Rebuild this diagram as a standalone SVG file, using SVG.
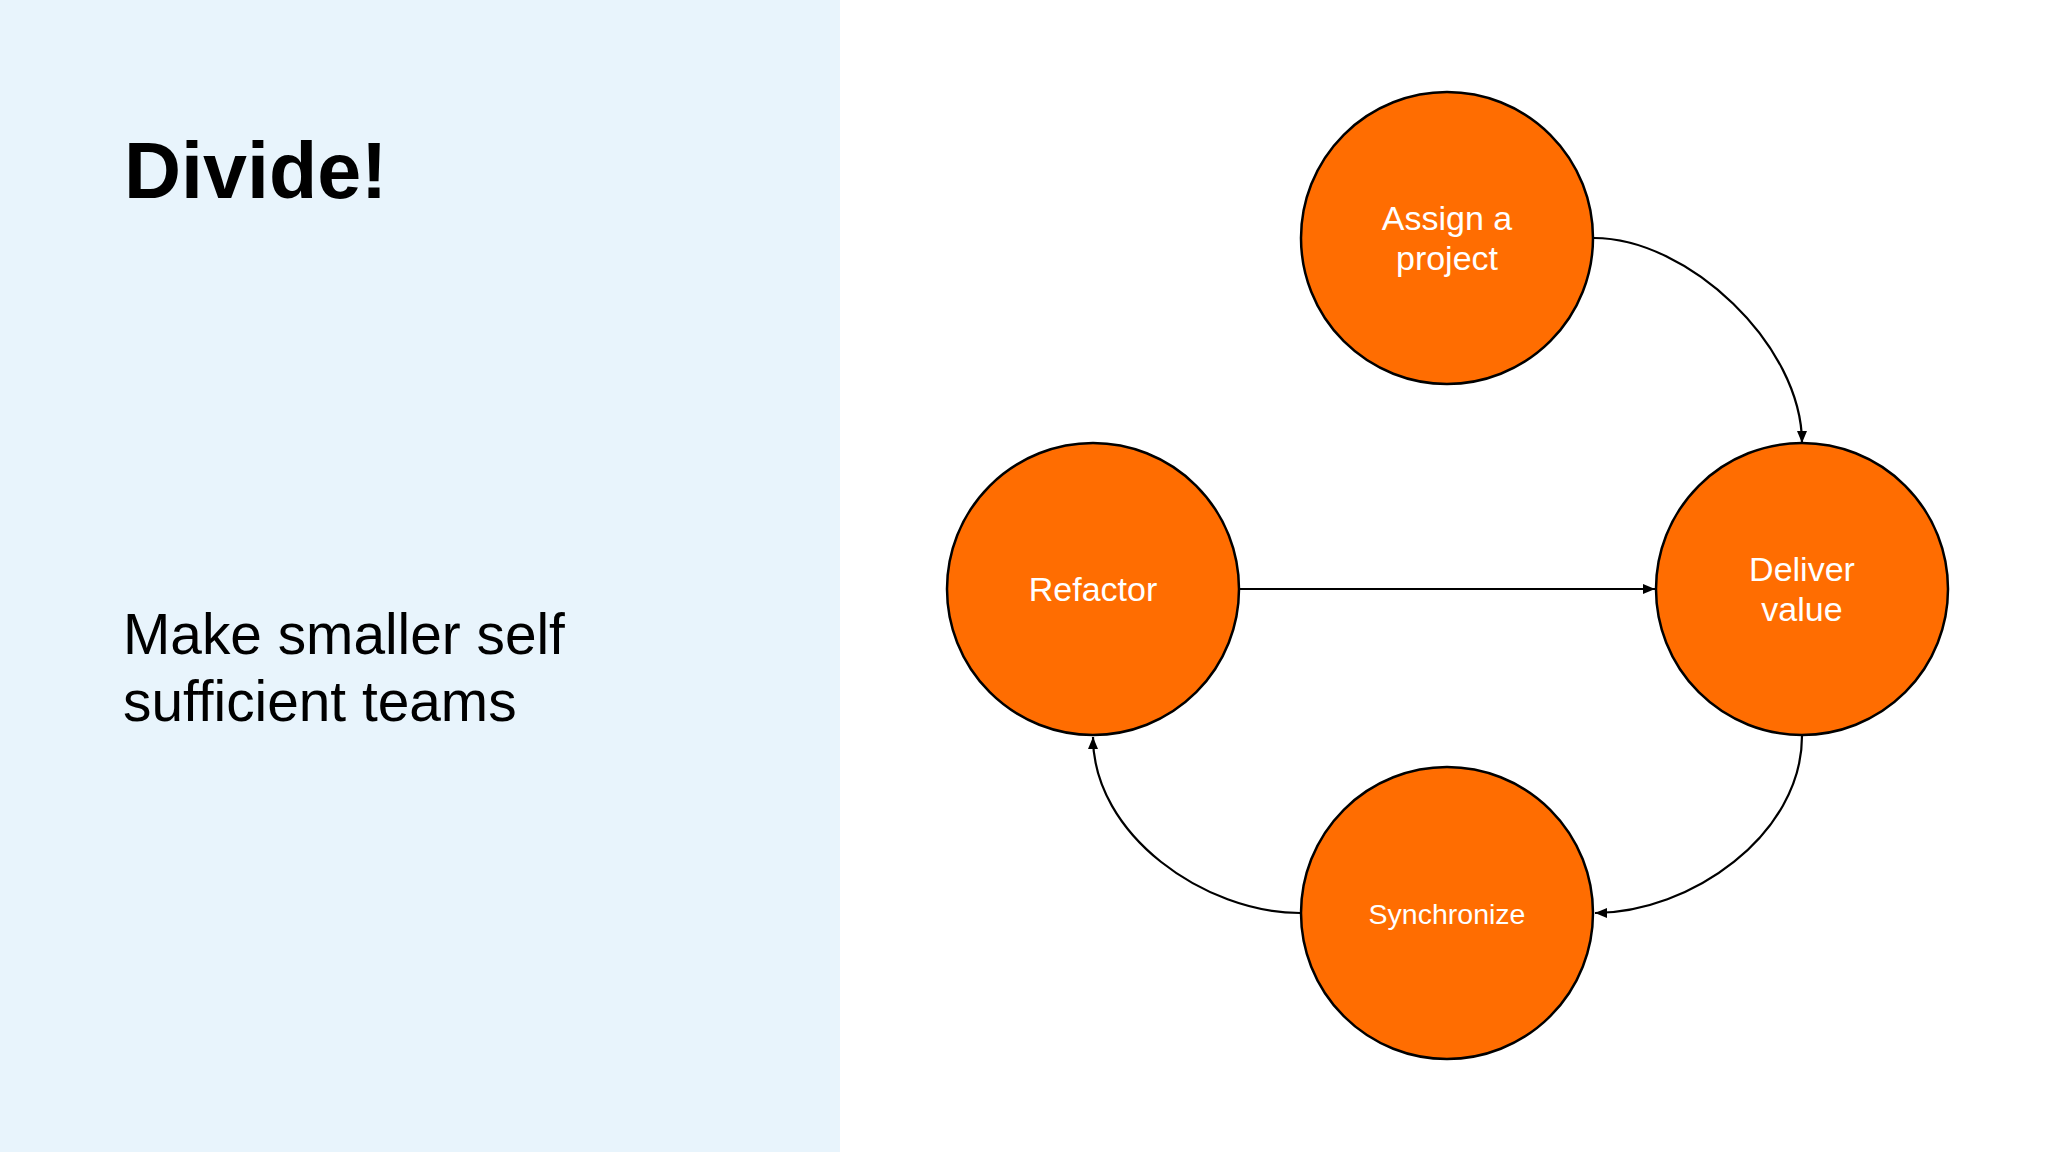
<svg xmlns="http://www.w3.org/2000/svg" width="2048" height="1152" viewBox="0 0 2048 1152">
  <style>
    .node circle { fill: #FF6D01; stroke: #000000; stroke-width: 2.5; }
    .node text { fill: #FFFFFF; font-family: "Liberation Sans", Arial, sans-serif; font-size: 34px; text-anchor: middle; }
    .edge { fill: none; stroke: #000000; stroke-width: 2.2; marker-end: url(#arrow); }
    .title { font-family: "Liberation Sans", Arial, sans-serif; font-weight: bold; font-size: 79px; fill: #000000; }
    .body { font-family: "Liberation Sans", Arial, sans-serif; font-size: 56.8px; fill: #000000; }
  </style>
  <defs>
    <marker id="arrow" viewBox="0 0 12 10" refX="12" refY="5" markerWidth="12" markerHeight="10" markerUnits="userSpaceOnUse" orient="auto">
      <path d="M0,0 L12,5 L0,10 Z" fill="#000000"/>
    </marker>
  </defs>
  <rect x="0" y="0" width="2048" height="1152" fill="#FFFFFF"/>
  <rect x="0" y="0" width="840" height="1152" fill="#E8F4FC"/>
  <text class="title" x="124" y="198">Divide!</text>
  <text class="body" x="123" y="654">Make smaller self</text>
  <text class="body" x="123" y="721">sufficient teams</text>

  <g id="connectors">
    <path class="edge" d="M1594,238 C1688,238 1802,345 1802,443"/>
    <path class="edge" d="M1240,589 L1655,589"/>
    <path class="edge" d="M1802,736 C1802,835 1690,913 1595,913"/>
    <path class="edge" d="M1300,913 C1205,913 1093,835 1093,737"/>
  </g>

  <g id="node-assign" class="node">
    <circle cx="1447" cy="238" r="146"/>
    <text x="1447" y="230">Assign a</text>
    <text x="1447" y="270">project</text>
  </g>
  <g id="node-deliver" class="node">
    <circle cx="1802" cy="589" r="146"/>
    <text x="1802" y="581">Deliver</text>
    <text x="1802" y="621">value</text>
  </g>
  <g id="node-refactor" class="node">
    <circle cx="1093" cy="589" r="146"/>
    <text x="1093" y="601">Refactor</text>
  </g>
  <g id="node-sync" class="node">
    <circle cx="1447" cy="913" r="146"/>
    <text x="1447" y="924" style="font-size:28.5px">Synchronize</text>
  </g>
</svg>
